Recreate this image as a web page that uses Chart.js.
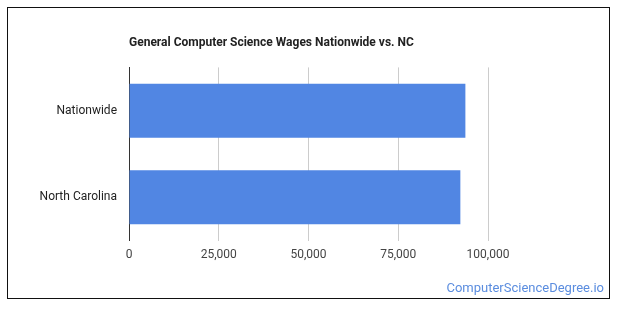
<!DOCTYPE html>
<html>
<head>
<meta charset="utf-8">
<script src="https://cdn.jsdelivr.net/npm/chart.js@4"></script>
<style>
  html, body { margin: 0; padding: 0; background: #fff; }
  .wrap { position: relative; width: 620px; height: 310px; }
  .frame { position: absolute; left: 7px; top: 7px; width: 601px; height: 290px; border: 1px solid #111; pointer-events: none; }
  .brand { position: absolute; right: 16px; top: 280px; font: 13px Roboto, sans-serif; line-height: 16px; color: #5b8ddf; }
</style>
</head>
<body>
<div class="wrap">
  <canvas id="chart" width="620" height="310"></canvas>
  <div class="frame"></div>
  <div class="brand">ComputerScienceDegree.io</div>
</div>
<script>
const categories = ["Nationwide", "North Carolina"];
const wages = [93700, 92300];
const tickValues = [0, 25000, 50000, 75000, 100000];

Chart.defaults.font.family = "Roboto";

const ctx = document.getElementById("chart");
new Chart(ctx, {
  type: "bar",
  data: {
    labels: categories,
    datasets: [{
      data: wages,
      backgroundColor: "#5186e3",
      barPercentage: 0.624,
      categoryPercentage: 1,
    }],
  },
  options: {
    indexAxis: "y",
    responsive: false,
    animation: false,
    layout: { padding: { left: 8, right: 132, top: 0, bottom: 41 } },
    plugins: {
      legend: { display: false },
      tooltip: { enabled: false },
      title: {
        display: true,
        text: "General Computer Science Wages Nationwide vs. NC",
        align: "start",
        fullSize: false,
        color: "#222",
        font: { size: 12, weight: "bold" },
        padding: { top: 36, bottom: 17 },
      },
    },
    scales: {
      x: {
        min: tickValues[0],
        max: tickValues[tickValues.length - 1],
        afterBuildTicks: (scale) => {
          scale.ticks = tickValues.map((v) => ({ value: v }));
        },
        grid: { color: "#ccc", drawTicks: false },
        border: { display: false },
        ticks: { color: "#444", font: { size: 12 }, padding: 7 },
      },
      y: {
        grid: { display: false },
        border: { display: true, color: "#333" },
        ticks: { color: "#222", font: { size: 12 }, padding: 4 },
        afterFit: (scale) => { scale.width = 121; },
      },
    },
  },
});
</script>
</body>
</html>
